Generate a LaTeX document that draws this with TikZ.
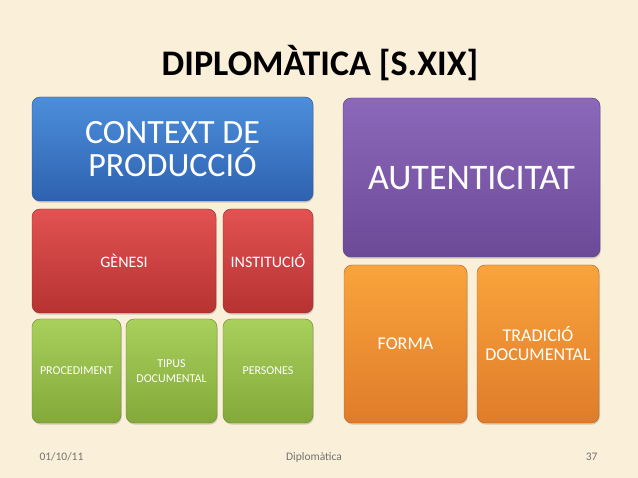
\documentclass[tikz,border=0pt]{standalone}
\usepackage{fontspec}
\setmainfont{Carlito}
\usetikzlibrary{shadows}

\definecolor{paper}{HTML}{FAEFD8}
\definecolor{bluetop}{HTML}{4C8EDB}
\definecolor{bluebot}{HTML}{2E62B0}
\definecolor{redtop}{HTML}{E25252}
\definecolor{redbot}{HTML}{B73232}
\definecolor{greentop}{HTML}{A8D05C}
\definecolor{greenbot}{HTML}{84A93A}
\definecolor{purpletop}{HTML}{8C68BA}
\definecolor{purplebot}{HTML}{6C4A98}
\definecolor{orangetop}{HTML}{F9A43C}
\definecolor{orangebot}{HTML}{E07C2A}

\tikzset{
  tile/.style={rounded corners=8pt, inner sep=0pt, text=white, align=center,
    drop shadow={opacity=0.35, shadow xshift=0.8pt, shadow yshift=-1.6pt}},
  bluetile/.style={tile, top color=bluetop, bottom color=bluebot, draw=bluebot!80!black},
  redtile/.style={tile, top color=redtop, bottom color=redbot, draw=redbot!80!black},
  greentile/.style={tile, top color=greentop, bottom color=greenbot, draw=greenbot!80!black},
  purpletile/.style={tile, top color=purpletop, bottom color=purplebot, draw=purplebot!80!black},
  orangetile/.style={tile, top color=orangetop, bottom color=orangebot, draw=orangebot!80!black},
  footer/.style={text=black!55, font=\fontsize{11.5}{12}\selectfont}
}

\begin{document}
\begin{tikzpicture}[x=1pt, y=-1pt]
\fill[paper] (0, 0) rectangle (638, 478);
\useasboundingbox (0, 0) rectangle (638, 478);

\node (title) at (320, 63) {\fontsize{36}{38}\selectfont\bfseries DIPLOMÀTICA [S.XIX]};

% context de produccio
\node[bluetile, minimum width=281pt, minimum height=104pt, font=\fontsize{34}{33}\selectfont] (context) at (172.5, 149) {CONTEXT DE\\PRODUCCIÓ};

\node[redtile, minimum width=184pt, minimum height=104pt, font=\fontsize{16}{17}\selectfont] (genesi) at (124, 261) {GÈNESI};
\node[redtile, minimum width=90pt, minimum height=104pt, font=\fontsize{16}{17}\selectfont] (institucio) at (268, 261) {INSTITUCIÓ};

\node[greentile, minimum width=89pt, minimum height=104pt, font=\fontsize{12}{15}\selectfont] (procediment) at (76.5, 371) {PROCEDIMENT};
\node[greentile, minimum width=91pt, minimum height=104pt, font=\fontsize{12}{15}\selectfont] (tipus) at (171.5, 371) {TIPUS\\DOCUMENTAL};
\node[greentile, minimum width=90pt, minimum height=104pt, font=\fontsize{12}{15}\selectfont] (persones) at (268, 371) {PERSONES};

% autenticitat
\node[purpletile, minimum width=257pt, minimum height=159pt, font=\fontsize{36}{38}\selectfont] (autenticitat) at (471.5, 177.5) {AUTENTICITAT};

\node[orangetile, minimum width=123pt, minimum height=158pt, font=\fontsize{18}{19}\selectfont] (forma) at (405.5, 344) {FORMA};
\node[orangetile, minimum width=122pt, minimum height=158pt, font=\fontsize{18}{19}\selectfont] (tradicio) at (538, 344) {TRADICIÓ\\DOCUMENTAL};

\node[footer, anchor=west] (data) at (36, 457) {01/10/11};
\node[footer] (peu) at (314, 457) {Diplomàtica};
\node[footer, anchor=east] (pagina) at (601, 457) {37};

\end{tikzpicture}
\end{document}
